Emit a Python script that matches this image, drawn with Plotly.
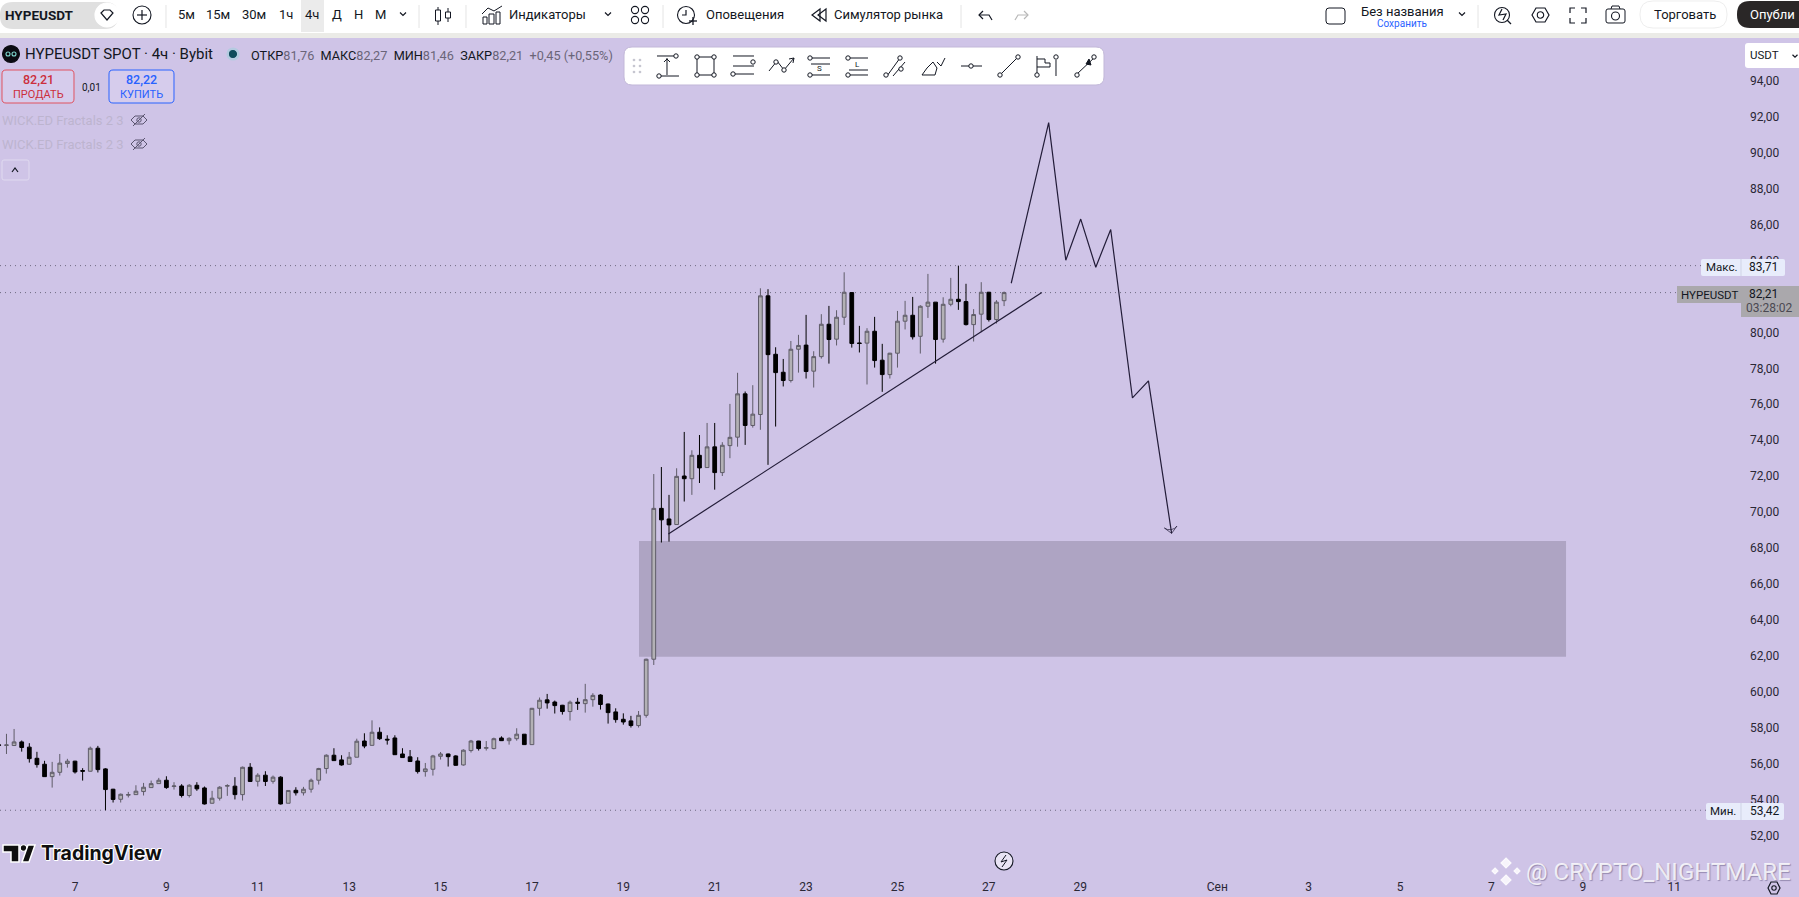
import pandas as pd
import plotly.graph_objects as go

W, H = 1799, 897

# 4h candles (first one sits half off the left edge)
times = pd.date_range("2025-08-05 08:00", periods=133, freq="4h")
opens = [
    57.05, 57.03, 57.02, 57.22, 56.93, 56.31, 55.98, 55.29, 55.53, 56.02,
    56.15, 55.63, 55.59, 56.87, 55.72, 54.59, 54.03, 54.26, 54.29, 54.46,
    54.68, 54.90, 55.09, 54.74, 54.77, 54.24, 54.81, 54.66, 53.81, 54.09,
    54.76, 54.76, 54.29, 55.81, 55.03, 55.37, 55.03, 55.26, 53.81, 54.53,
    54.39, 54.59, 55.09, 55.74, 56.48, 56.22, 55.98, 56.37, 57.27, 57.03,
    57.76, 57.37, 57.44, 56.55, 56.39, 56.16, 55.57, 55.70, 56.42, 56.55,
    56.44, 55.94, 56.74, 57.27, 56.87, 56.85, 57.44, 57.29, 57.40, 57.65,
    57.07, 59.09, 59.56, 59.44, 59.26, 58.91, 59.43, 59.35, 59.57, 59.83,
    59.33, 58.89, 58.48, 58.39, 58.13, 58.70, 61.82, 70.21, 69.62, 69.31,
    72.01, 71.86, 73.16, 72.48, 73.63, 72.20, 73.70, 74.17, 76.58, 74.82,
    75.43, 82.03, 78.78, 77.78, 77.32, 79.06, 79.29, 77.84, 78.65, 80.45,
    79.62, 80.84, 82.21, 79.41, 79.40, 80.06, 78.45, 77.65, 78.84, 80.62,
    80.95, 79.78, 81.45, 81.68, 79.62, 81.56, 81.84, 81.71, 80.43, 81.01,
    82.23, 80.71, 81.76,
]
highs = [
    57.10, 57.67, 57.94, 57.30, 57.15, 56.67, 56.17, 56.11, 56.55, 56.28,
    56.17, 55.76, 56.96, 57.00, 55.76, 54.61, 54.35, 54.44, 54.81, 54.94,
    55.07, 55.22, 55.31, 54.98, 54.87, 54.87, 54.98, 54.74, 54.50, 54.76,
    54.87, 55.26, 55.85, 56.04, 55.48, 55.59, 55.35, 55.31, 54.53, 54.70,
    54.72, 55.18, 55.78, 56.53, 56.87, 56.48, 56.66, 57.40, 57.70, 58.42,
    58.03, 57.59, 57.59, 56.87, 56.77, 56.37, 56.05, 56.50, 56.66, 56.57,
    56.48, 56.81, 57.33, 57.28, 57.27, 57.46, 57.53, 57.48, 57.98, 57.66,
    59.11, 59.69, 59.89, 59.52, 59.28, 59.52, 59.67, 60.45, 59.93, 59.87,
    59.35, 59.09, 58.81, 58.67, 58.94, 61.85, 72.12, 72.51, 70.96, 72.44,
    74.46, 73.44, 74.29, 74.96, 74.96, 73.89, 76.02, 77.75, 76.71, 77.06,
    82.45, 82.40, 79.17, 78.52, 79.52, 79.86, 80.97, 78.95, 81.01, 81.47,
    81.23, 83.34, 82.23, 80.36, 80.23, 80.86, 79.36, 78.86, 81.19, 81.75,
    81.97, 81.51, 83.25, 81.68, 81.95, 83.03, 83.71, 82.70, 81.29, 82.79,
    82.25, 81.79, 82.27,
]
lows = [
    57.00, 56.55, 57.02, 56.68, 56.07, 55.79, 55.29, 54.68, 55.35, 55.79,
    55.46, 55.07, 55.57, 55.52, 53.42, 53.85, 53.85, 54.13, 54.29, 54.24,
    54.68, 54.90, 54.61, 54.57, 54.13, 54.13, 54.50, 53.74, 53.79, 53.96,
    54.22, 54.02, 53.96, 55.00, 54.74, 54.77, 54.90, 53.74, 53.81, 54.24,
    54.24, 54.40, 54.85, 55.46, 56.17, 55.90, 55.96, 56.37, 56.87, 57.02,
    57.33, 57.07, 56.50, 56.33, 56.11, 55.46, 55.29, 55.35, 56.24, 55.85,
    55.90, 55.90, 56.63, 56.74, 56.74, 56.81, 57.27, 57.07, 57.29, 57.05,
    57.07, 58.68, 59.07, 58.80, 58.74, 58.41, 59.00, 58.85, 59.18, 59.02,
    58.24, 58.29, 58.18, 58.02, 58.02, 58.57, 61.50, 68.31, 68.36, 69.31,
    70.59, 70.96, 71.62, 72.48, 71.25, 72.01, 73.00, 73.64, 73.74, 74.70,
    74.58, 72.63, 74.76, 76.99, 77.21, 77.76, 77.43, 76.93, 78.54, 78.26,
    79.27, 80.41, 79.15, 78.88, 77.10, 78.04, 76.69, 77.43, 78.04, 80.16,
    79.60, 78.82, 80.80, 78.26, 79.43, 81.45, 81.25, 80.38, 79.49, 80.01,
    80.60, 80.49, 81.46,
]
closes = [
    57.04, 57.05, 57.22, 56.91, 56.29, 55.96, 55.29, 55.53, 56.04, 56.15,
    55.55, 55.59, 56.87, 55.68, 54.57, 54.02, 54.31, 54.29, 54.48, 54.70,
    54.90, 55.09, 54.68, 54.77, 54.24, 54.81, 54.61, 53.77, 54.09, 54.70,
    54.79, 54.29, 55.81, 55.02, 55.37, 55.02, 55.26, 53.77, 54.52, 54.39,
    54.59, 55.09, 55.74, 56.48, 56.18, 55.94, 56.37, 57.26, 56.99, 57.76,
    57.40, 57.33, 56.51, 56.35, 56.13, 55.57, 55.72, 56.44, 56.55, 56.40,
    55.92, 56.76, 57.27, 56.85, 56.90, 57.40, 57.29, 57.42, 57.65, 57.07,
    59.09, 59.54, 59.39, 59.24, 58.91, 59.43, 59.37, 59.57, 59.81, 59.30,
    58.85, 58.46, 58.33, 58.13, 58.70, 61.82, 70.21, 69.57, 69.29, 71.99,
    71.86, 73.16, 72.46, 73.63, 72.20, 73.72, 74.16, 76.58, 74.82, 75.45,
    82.03, 78.76, 77.76, 77.32, 79.06, 79.27, 77.82, 78.65, 80.45, 79.60,
    80.84, 82.23, 79.38, 79.38, 80.06, 78.43, 77.65, 78.84, 80.62, 80.95,
    79.75, 81.45, 81.68, 79.60, 81.56, 81.84, 81.71, 80.43, 80.99, 82.23,
    80.71, 81.68, 82.21,
]

# hand-drawn things on the chart
zone_x = ["2025-08-19 08:15", "2025-09-08 15:10"]
zone_y = [61.96, 68.40]
trend_x = ["2025-08-19 23:40", "2025-08-28 03:50"]
trend_y = [68.79, 82.21]
path_x = ["2025-08-27 11:45", "2025-08-28 07:25", "2025-08-28 16:25", "2025-08-29 00:15",
          "2025-08-29 08:10", "2025-08-29 16:00", "2025-08-30 03:25", "2025-08-30 11:50",
          "2025-08-31 00:00"]
path_y = [82.73, 91.66, 84.01, 86.30, 83.62, 85.72, 76.35, 77.30, 68.82]

max_price = 83.71
last_price = 82.21
min_price = 53.42

y_ticks = list(range(52, 96, 2))
x_tick_days = ["2025-08-07", "2025-08-09", "2025-08-11", "2025-08-13", "2025-08-15", "2025-08-17",
               "2025-08-19", "2025-08-21", "2025-08-23", "2025-08-25", "2025-08-27", "2025-08-29",
               "2025-09-01", "2025-09-03", "2025-09-05", "2025-09-07", "2025-09-09", "2025-09-11"]
x_tick_text = ["7", "9", "11", "13", "15", "17", "19", "21", "23", "25", "27", "29",
               "Сен", "3", "5", "7", "9", "11"]

BG = "#cfc4e7"
INK = "#131722"
FONT = "Roboto"

shapes = []
notes = []


def fx(x):
    return x / W


def fy(y):
    return 1 - y / H


def text(x, y, s, size=12, color=INK, anchor="center", weight=None, shadow=None, family=FONT):
    font = dict(family=family, size=size, color=color)
    if weight:
        font["weight"] = weight
    if shadow:
        font["shadow"] = shadow
    notes.append(dict(x=fx(x), y=fy(y), xref="paper", yref="paper", text=s, showarrow=False,
                      xanchor=anchor, yanchor="middle", font=font, borderpad=0))


def poly(points, color=INK, width=1.2, close=False, fill=None):
    d = "M " + " L ".join(f"{fx(x):.5f},{fy(y):.5f}" for x, y in points)
    if close:
        d += " Z"
    shapes.append(dict(type="path", xref="paper", yref="paper", path=d,
                       line=dict(color=color, width=width), fillcolor=fill or "rgba(0,0,0,0)"))


def box(x0, y0, x1, y1, fill=None, line=None, width=1):
    shapes.append(dict(type="rect", xref="paper", yref="paper", x0=fx(x0), x1=fx(x1), y0=fy(y0), y1=fy(y1),
                       fillcolor=fill or "rgba(0,0,0,0)", line=dict(color=line or "rgba(0,0,0,0)", width=width)))


def rbox(x0, y0, x1, y1, r, fill=None, line=None, width=1):
    a, b, c, d = fx(x0), fx(x1), fy(y0), fy(y1)
    rx, ry = r / W, r / H
    p = (f"M {a+rx:.5f},{c:.5f} L {b-rx:.5f},{c:.5f} Q {b:.5f},{c:.5f} {b:.5f},{c-ry:.5f} "
         f"L {b:.5f},{d+ry:.5f} Q {b:.5f},{d:.5f} {b-rx:.5f},{d:.5f} L {a+rx:.5f},{d:.5f} "
         f"Q {a:.5f},{d:.5f} {a:.5f},{d+ry:.5f} L {a:.5f},{c-ry:.5f} Q {a:.5f},{c:.5f} {a+rx:.5f},{c:.5f} Z")
    shapes.append(dict(type="path", xref="paper", yref="paper", path=p,
                       fillcolor=fill or "rgba(0,0,0,0)",
                       line=dict(color=line or "rgba(0,0,0,0)", width=width)))


def ring(x, y, r, fill=None, line=INK, width=1.1):
    shapes.append(dict(type="circle", xref="paper", yref="paper", x0=fx(x - r), x1=fx(x + r),
                       y0=fy(y - r), y1=fy(y + r), fillcolor=fill or "rgba(0,0,0,0)",
                       line=dict(color=line, width=width)))


def chevron(x, y, s=3, color=INK):
    poly([(x - s, y - s / 2), (x, y + s / 2), (x + s, y - s / 2)], color=color)


def eye(x, y):
    c = "#5b5570"
    poly([(x - 8, y), (x - 4, y - 4), (x + 4, y - 4), (x + 8, y), (x + 4, y + 4), (x - 4, y + 4)], c, 1, True)
    ring(x, y, 2.2, line=c, width=1)
    poly([(x - 6, y + 6), (x + 6, y - 6)], c, 1)


# ---- top toolbar ----
box(0, 0, W, 33, fill="#ffffff")
box(0, 33, W, 38, fill="#ebebe7")
rbox(0, 2, 118, 29, 13, fill="#e0e0e0")
text(4, 15, "HYPEUSDT", 13.5, anchor="left", weight=700)
ring(107, 15, 12, fill="#ffffff", line="#ffffff")
poly([(101, 13), (104, 10), (110, 10), (113, 13), (107, 20)], width=1.2, close=True)
ring(142, 15, 9)
poly([(137, 15), (147, 15)])
poly([(142, 10), (142, 20)])
box(301, 0, 324, 32, fill="#ebebeb")
for tx, lab in zip([186, 218, 254, 286, 312, 337, 358, 380],
                   ["5м", "15м", "30м", "1ч", "4ч", "Д", "Н", "М"]):
    text(tx, 15, lab, 13)
chevron(403, 14)
for sx in [166, 419, 466, 663, 961, 1478]:
    poly([(sx, 5), (sx, 28)], color="#e4e4e4", width=1)
# candles icon
poly([(438, 7), (438, 25)], width=1)
box(435.5, 10, 440.5, 21, fill="#ffffff", line=INK)
poly([(448, 8), (448, 22)], width=1)
box(445.5, 12, 450.5, 18, fill="#ffffff", line=INK)
# indicators icon
poly([(482, 14), (488, 8), (494, 11), (502, 6)], width=1)
box(483, 17, 487, 24, line=INK)
box(489, 14, 494, 24, line=INK)
box(496, 12, 500, 24, line=INK)
text(508, 15, "Индикаторы", 13, anchor="left")
chevron(608, 14)
# layouts icon
for ix, iy in [(635, 10), (645, 10), (635, 20), (645, 20)]:
    ring(ix, iy, 3.6)
# alerts
ring(686, 15, 8.5)
poly([(686, 10), (686, 15), (682, 15)])
poly([(689, 21), (697, 21)], width=1.3)
poly([(693, 17), (693, 25)], width=1.3)
text(705, 15, "Оповещения", 13, anchor="left")
poly([(820, 9), (812, 15), (820, 21)], close=True)
poly([(826, 9), (818, 15), (826, 21)], close=True)
text(833, 15, "Симулятор рынка", 13, anchor="left")
poly([(979, 15), (983, 11), (979, 15), (983, 19)], width=1.2)
poly([(979, 15), (989, 15), (992, 20)], width=1.2)
poly([(1028, 15), (1024, 11), (1028, 15), (1024, 19)], color="#b8b8b8", width=1.2)
poly([(1028, 15), (1018, 15), (1015, 20)], color="#b8b8b8", width=1.2)
rbox(1326, 8, 1345, 24, 3, line=INK)
text(1402, 11, "Без названия", 13)
text(1402, 23, "Сохранить", 10, color="#2962ff")
chevron(1462, 14)
ring(1502, 15, 7.5)
poly([(1502, 9), (1499, 15), (1506, 14), (1503, 20)])
poly([(1507, 20), (1511, 24)])
poly([(1532, 15), (1536, 8), (1545, 8), (1549, 15), (1545, 22), (1536, 22)], close=True)
ring(1540.5, 15, 3.2)
for a, b, c in [((1570, 13), (1570, 8), (1575, 8)), ((1581, 8), (1586, 8), (1586, 13)),
                ((1586, 18), (1586, 23), (1581, 23)), ((1575, 23), (1570, 23), (1570, 18))]:
    poly([a, b, c])
rbox(1606, 9, 1625, 23, 2, line=INK)
poly([(1611, 9), (1612, 6), (1619, 6), (1620, 9)], width=1)
ring(1615.5, 16, 4)
rbox(1640, 1, 1727, 28, 13, fill="#ffffff", line="#eeeeee")
text(1685, 15, "Торговать", 13)
rbox(1737, 1, 1830, 28, 13, fill="#2a2727")
text(1749, 15, "Опубли", 13, color="#ffffff", anchor="left")

# ---- legend block ----
ring(11, 54, 8.5, fill="#0b0b12", line="#0b0b12")
ring(8, 54, 2, line="#7ed8d0")
ring(14, 54, 2, line="#7ed8d0")
text(24, 54, "HYPEUSDT SPOT · 4ч · Bybit", 15, anchor="left")
ring(233, 54, 6, fill="#b4cbe0", line="#b4cbe0")
ring(233, 54, 3.5, fill="#0f4c5c", line="#0f4c5c")
VAL = "#6a6478"
text(250, 55,
     f"ОТКР<span style='color:{VAL}'>81,76</span> &nbsp;МАКС<span style='color:{VAL}'>82,27</span> "
     f"&nbsp;МИН<span style='color:{VAL}'>81,46</span> &nbsp;ЗАКР<span style='color:{VAL}'>82,21</span> "
     f"&nbsp;<span style='color:{VAL}'>+0,45 (+0,55%)</span>", 12.7, anchor="left")
rbox(2, 70, 74, 103, 4, fill="#d6ccec", line="#e05260")
text(38, 80, "82,21", 12.5, color="#cc2f3c", weight=500)
text(38, 94, "ПРОДАТЬ", 11, color="#cc2f3c")
text(91, 87, "0,01", 10)
rbox(109, 70, 174, 103, 4, fill="#d6ccec", line="#2962ff")
text(141, 80, "82,22", 12.5, color="#2962ff", weight=500)
text(141, 94, "КУПИТЬ", 11, color="#2962ff")
text(1, 120, "WICK.ED Fractals 2 3", 13, color="#bdb4cf", anchor="left")
text(1, 144, "WICK.ED Fractals 2 3", 13, color="#bdb4cf", anchor="left")
eye(139, 120)
eye(139, 144)
rbox(2, 160, 29, 180, 2, line="#e0daf0")
poly([(12, 172), (15, 168), (18, 172)])

# ---- floating drawing toolbar ----
rbox(624, 47, 1104, 85, 8, fill="#ffffff", line="#c2b8d8")
for dy in [60, 66, 72]:
    ring(634, dy, 0.8, fill="#c5c5cf", line="#c5c5cf")
    ring(640, dy, 0.8, fill="#c5c5cf", line="#c5c5cf")


def dot(x, y):
    ring(x, y, 2.2, fill="#ffffff", line=INK, width=1)


# fixed range
poly([(657, 56), (674, 56)], width=1); poly([(660, 76), (679, 76)], width=1)
poly([(667, 58), (667, 75)], width=1); poly([(664, 62), (667, 59), (670, 62)], width=1)
dot(676, 56); dot(659, 76)
# rectangle
box(697, 57, 714, 75, line=INK); dot(697, 57); dot(714, 57); dot(697, 75); dot(714, 75)
# horizontal channel
for ly in [56, 66, 74]:
    poly([(733, ly), (754, ly)], width=1)
dot(753, 62); dot(733, 74)
# path
poly([(769, 71), (777, 61), (784, 70), (794, 58)], width=1)
poly([(789, 59), (794, 58), (793, 63)], width=1)
dot(776, 62); dot(784, 70)
# short / long position
poly([(811, 58), (830, 58)], width=1); poly([(811, 64), (830, 64)], width=1)
poly([(811, 75), (830, 75)], width=1); dot(810, 58); dot(810, 75)
text(819.5, 69, "S", 8)
poly([(849, 58), (868, 58)], width=1); poly([(849, 70), (868, 70)], width=1)
poly([(849, 75), (868, 75)], width=1); dot(848, 58); dot(848, 75)
text(857.5, 64, "L", 8)
# parallel lines
poly([(887, 76), (900, 58)], width=1); poly([(893, 76), (905, 62)], width=1)
dot(886, 75); dot(900, 58); dot(901, 69)
# sector
poly([(922, 75), (935, 75), (937, 68), (933, 62), (927, 68)], width=1, close=True)
poly([(937, 62), (941, 66), (945, 58)], width=1)
# horizontal ray
poly([(961, 66), (982, 66)], width=1); dot(971, 66)
# trend line
poly([(1000, 75), (1018, 57)], width=1); dot(1000, 75); dot(1018, 57)
# volume profile
poly([(1037, 56), (1037, 75)], width=1); poly([(1037, 59), (1045, 59), (1045, 63), (1050, 63), (1050, 67), (1037, 67)], width=1)
dot(1037, 75)
poly([(1056, 60), (1056, 76)], width=1); dot(1056, 57)
# arrow
poly([(1077, 74), (1095, 57)], width=1); dot(1077, 75); dot(1094, 57)
poly([(1089, 59), (1086, 64), (1091, 65)], width=1, close=True, fill=INK)
rbox(1745, 43, 1810, 68, 3, fill="#ffffff")
text(1749, 55, "USDT", 11.5, anchor="left")
chevron(1795, 56, 2.5)

# ---- price scale labels ----
LBL = "#e8ecfb"
rbox(1701, 259, 1785, 276, 2, fill=LBL)
poly([(1741, 259), (1741, 276)], color="#cfd3e6", width=1)
text(1721, 267, "Макс.", 11.5)
text(1763, 267, "83,71", 12)
box(1677, 286, 1741, 303, fill="#aaa8ac")
box(1741, 286, 1799, 317, fill="#aaa8ac")
text(1709, 295, "HYPEUSDT", 11.5)
text(1763, 294, "82,21", 12)
text(1769, 308, "03:28:02", 12, color="#4a4852")
rbox(1706, 803, 1784, 820, 2, fill=LBL)
poly([(1741, 803), (1741, 820)], color="#cfd3e6", width=1)
text(1723, 811, "Мин.", 11.5)
text(1765, 811, "53,42", 12)

# ---- logo, watermark, small buttons ----
poly([(3, 845), (19, 845), (19, 862), (11, 862), (11, 852), (3, 852)], color="#ffffff", width=1.5, close=True, fill="#0f0f0f")
ring(23.5, 848, 3.2, fill="#0f0f0f", line="#ffffff")
poly([(22, 862), (28, 845), (35, 845), (29, 862)], color="#ffffff", width=1.5, close=True, fill="#0f0f0f")
halo = "1px 0 0 #fff, -1px 0 0 #fff, 0 1px 0 #fff, 0 -1px 0 #fff, 1px 1px 0 #fff, -1px -1px 0 #fff"
text(40, 853, "TradingView", 19.5, color="#0f0f0f", anchor="left", weight=700, shadow=halo, family="Inter")
ring(1004, 861, 9, fill="#e9e4f4", line=INK)
poly([(1006, 855), (1001, 862), (1007, 860), (1002, 867)], width=1)
WM = "rgba(255,255,255,0.82)"
poly([(1506, 858), (1511, 863), (1506, 868), (1501, 863)], color=WM, close=True, fill=WM)
poly([(1495, 868), (1498, 871), (1495, 874), (1492, 871)], color=WM, close=True, fill=WM)
poly([(1517, 868), (1520, 871), (1517, 874), (1514, 871)], color=WM, close=True, fill=WM)
poly([(1506, 875), (1511, 880), (1506, 885), (1501, 880)], color=WM, close=True, fill=WM)
text(1525, 872, "@ CRYPTO_NIGHTMARE", 24, color=WM, anchor="left", shadow="1px 1px 1px rgba(90,80,120,0.6)")
poly([(1768, 888), (1771, 882), (1777, 882), (1780, 888), (1777, 894), (1771, 894)], close=True)
ring(1774, 888, 2.2)

# ---- data-space drawings ----
shapes.append(dict(type="rect", xref="x", yref="y", x0=zone_x[0], x1=zone_x[1], y0=zone_y[0], y1=zone_y[1],
                   fillcolor="#aea4c3", line=dict(width=0), layer="below"))
for level in [max_price, last_price, min_price]:
    shapes.append(dict(type="line", xref="paper", yref="y", x0=0, x1=fx(1741), y0=level, y1=level,
                       line=dict(color="#6f6a82", width=1, dash="1px,4px"), layer="below"))

fig = go.Figure()
fig.add_trace(go.Candlestick(
    x=times, open=opens, high=highs, low=lows, close=closes,
    increasing=dict(line=dict(color="#5f5c68", width=1), fillcolor="#b3b1b5"),
    decreasing=dict(line=dict(color="#000000", width=1), fillcolor="#000000"),
    whiskerwidth=0, showlegend=False,
))
fig.add_trace(go.Scatter(x=trend_x, y=trend_y, mode="lines", showlegend=False,
                         line=dict(color="#221c38", width=1.2)))
fig.add_trace(go.Scatter(x=path_x, y=path_y, mode="lines", showlegend=False,
                         line=dict(color="#221c38", width=1.2)))
fig.add_trace(go.Scatter(x=path_x[-2:], y=path_y[-2:], mode="markers", showlegend=False,
                         marker=dict(symbol="arrow-wide-open", angleref="previous", size=[0, 9],
                                     color="#221c38", line=dict(color="#221c38", width=1))))

fig.update_layout(
    width=W, height=H,
    margin=dict(l=0, r=0, t=0, b=0),
    paper_bgcolor=BG, plot_bgcolor=BG,
    separators=", ",
    font=dict(family=FONT, size=12, color=INK),
    shapes=shapes, annotations=notes,
    xaxis=dict(
        domain=[0, fx(1741)], type="date",
        range=["2025-08-05 08:36", "2025-09-12 11:04"],
        rangeslider=dict(visible=False),
        tickmode="array", tickvals=x_tick_days, ticktext=x_tick_text,
        showgrid=False, zeroline=False, showline=False, ticks="", tickangle=0,
        tickfont=dict(size=12, color="#2a2735"), ticklabelstandoff=5,
    ),
    yaxis=dict(
        domain=[fy(873), fy(38)], side="right",
        range=[49.93, 96.37],
        tickmode="array", tickvals=y_ticks, tickformat=".2f",
        showgrid=False, zeroline=False, showline=False, ticks="",
        tickfont=dict(size=12, color="#2a2735"), ticklabelstandoff=8,
    ),
)

fig.write_html("out.html", config=dict(displayModeBar=False),
               post_script="document.body.style.margin='0';document.body.style.overflow='hidden';")
